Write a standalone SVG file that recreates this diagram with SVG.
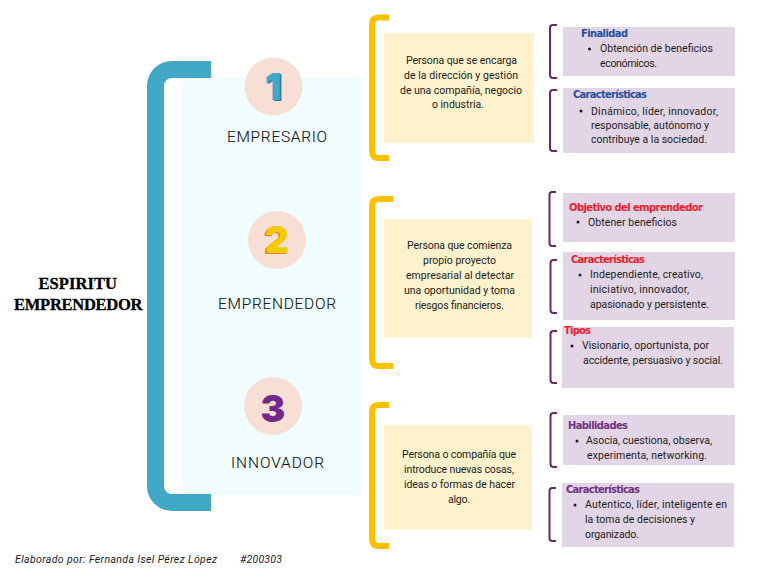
<svg xmlns="http://www.w3.org/2000/svg" width="768" height="576" viewBox="0 0 768 576">
<style>
.b{font-family:Roboto,"Liberation Sans",sans-serif;font-size:10.500px;fill:#1c1c1c;}
.t{font-family:"DejaVu Sans Condensed","DejaVu Sans",sans-serif;font-stretch:condensed;font-size:11px;font-weight:700;}
.l{font-family:Roboto,"Liberation Sans",sans-serif;font-size:15.500px;font-weight:300;fill:#111;stroke:#111;stroke-width:.1;}
.n{font-family:Inter,Roboto,"Liberation Sans",sans-serif;font-size:37px;font-weight:900;text-anchor:middle;}
.h{font-family:"Liberation Serif",serif;font-size:16.500px;font-weight:700;fill:#000;stroke:#000;stroke-width:.3;}
.f{font-family:Roboto,"Liberation Sans",sans-serif;font-size:10.500px;font-style:italic;fill:#1c1c1c;}
.y{fill:#fff2cc;}.p{fill:#e2d5e5;}.c{fill:#f8dfd5;}
.yb{fill:none;stroke:#ffc000;stroke-width:6;}
.pb{fill:none;stroke:#6b2a62;stroke-width:2;}
.d{fill:#1c1c1c;}
</style>
<rect x="181" y="77" width="181" height="418" fill="#f0fcff"/>
<g id="connectors">
<path d="M211 69.500H172A16.500 16.500 0 0 0 155.500 86V486A16.500 16.500 0 0 0 172 502.500H211" fill="none" stroke="#41a9c5" stroke-width="17"/>
<path class="yb" d="M389 17.500H379Q372 17.500 372 24.500V151Q372 158 379 158H389"/>
<path class="yb" d="M393 199H379Q372 199 372 206V359Q372 366 379 366H393"/>
<path class="yb" d="M389 405H379Q372 405 372 412V539Q372 546 379 546H389"/>
<path class="pb" d="M557 25H553Q550 25 550 28V75Q550 78 553 78H557"/>
<path class="pb" d="M557 90H553Q550 90 550 93V148Q550 151 553 151H557"/>
<path class="pb" d="M556 192H552Q549.500 192 549.500 195V243Q549.500 246 552 246H556"/>
<path class="pb" d="M557 260H553.500Q550.500 260 550.500 263V310Q550.500 313 553.500 313H557"/>
<path class="pb" d="M557 331H553.500Q550.500 331 550.500 334V380Q550.500 383 553.500 383H557"/>
<path class="pb" d="M557 413H553.500Q550.500 413 550.500 416V464Q550.500 467 553.500 467H557"/>
<path class="pb" d="M556 488H552.500Q549.500 488 549.500 491V538Q549.500 541 552.500 541H556"/>
</g>
<g id="root"><text class="h" x="38.500" y="289" textLength="78.500">ESPIRITU</text><text class="h" x="14" y="310" textLength="128.500">EMPRENDEDOR</text></g>
<g id="empresario">
<circle class="c" cx="273.500" cy="86.500" r="29"/>
<text class="n" x="274.500" y="100.500" fill="#2b7f9d">1</text><text class="n" x="273" y="99.500" fill="#41a9c5">1</text>
<text class="l" x="227" y="142" textLength="100">EMPRESARIO</text>
</g>
<g id="emprendedor">
<circle class="c" cx="277" cy="240" r="29"/>
<text class="n" x="275.500" y="254" fill="#ee7a2a">2</text><text class="n" x="277" y="253" fill="#f0cc00">2</text>
<text class="l" x="218" y="309" textLength="118">EMPRENDEDOR</text>
</g>
<g id="innovador">
<circle class="c" cx="273" cy="406" r="29"/>
<text class="n" x="273" y="422" fill="#74288a">3</text>
<text class="l" x="231" y="468" textLength="93">INNOVADOR</text>
</g>
<g id="def-empresario"><rect class="y" x="384" y="33" width="150" height="110"/>
<text class="b" x="406" y="64" textLength="111">Persona que se encarga</text>
<text class="b" x="404" y="79" textLength="114">de la dirección y gestión</text>
<text class="b" x="400" y="94" textLength="122">de una compañía, negocio</text>
<text class="b" x="432" y="108" textLength="52">o industria.</text></g>
<g id="def-emprendedor"><rect class="y" x="384" y="219" width="148" height="119"/>
<text class="b" x="407" y="249" textLength="105">Persona que comienza</text>
<text class="b" x="423" y="264" textLength="73">propio proyecto</text>
<text class="b" x="406" y="279" textLength="108">empresarial al detectar</text>
<text class="b" x="404" y="294" textLength="111">una oportunidad y toma</text>
<text class="b" x="415" y="309" textLength="89">riesgos financieros.</text></g>
<g id="def-innovador"><rect class="y" x="384" y="425" width="148" height="105"/>
<text class="b" x="402" y="458" textLength="114">Persona o compañía que</text>
<text class="b" x="404" y="473" textLength="110">introduce nuevas cosas,</text>
<text class="b" x="404" y="488" textLength="111">ideas o formas de hacer</text>
<text class="b" x="448" y="503" textLength="22">algo.</text></g>
<g id="finalidad"><rect class="p" x="563" y="27" width="172" height="49"/>
<text class="t" x="581" y="37" textLength="47" fill="#1f4ea1">Finalidad</text><circle class="d" cx="589.500" cy="49" r="1.500"/>
<text class="b" x="600" y="52" textLength="113">Obtención de beneficios</text>
<text class="b" x="600" y="67" textLength="57">económicos.</text></g>
<g id="caracteristicas-1"><rect class="p" x="563" y="88" width="172" height="65"/>
<text class="t" x="573" y="98" textLength="74" fill="#1f4ea1">Características</text><circle class="d" cx="581" cy="111" r="1.500"/>
<text class="b" x="591" y="115" textLength="127">Dinámico, líder, innovador,</text>
<text class="b" x="591" y="129" textLength="118">responsable, autónomo y</text>
<text class="b" x="591" y="143" textLength="116">contribuye a la sociedad.</text></g>
<g id="objetivo"><rect class="p" x="563" y="193" width="172" height="49"/>
<text class="t" x="569" y="211" textLength="134" fill="#ee1c2e">Objetivo del emprendedor</text><circle class="d" cx="578" cy="222" r="1.500"/>
<text class="b" x="588" y="226" textLength="89">Obtener beneficios</text></g>
<g id="caracteristicas-2"><rect class="p" x="563" y="252" width="172" height="68"/>
<text class="t" x="571" y="263" textLength="74" fill="#ee1c2e">Características</text><circle class="d" cx="580" cy="275" r="1.500"/>
<text class="b" x="590" y="278" textLength="113">Independiente, creativo,</text>
<text class="b" x="590" y="293" textLength="99">iniciativo, innovador,</text>
<text class="b" x="590" y="308" textLength="119">apasionado y persistente.</text></g>
<g id="tipos"><rect class="p" x="562" y="327" width="172" height="61"/>
<text class="t" x="564" y="334" textLength="27" fill="#ee1c2e">Tipos</text><circle class="d" cx="572" cy="346" r="1.500"/>
<text class="b" x="582" y="349" textLength="127">Visionario, oportunista, por</text>
<text class="b" x="583" y="364" textLength="140">accidente, persuasivo y social.</text></g>
<g id="habilidades"><rect class="p" x="563" y="415" width="172" height="50"/>
<text class="t" x="568" y="429" textLength="60" fill="#6f2f80">Habilidades</text><circle class="d" cx="577" cy="441" r="1.500"/>
<text class="b" x="586" y="444" textLength="126">Asocia, cuestiona, observa,</text>
<text class="b" x="587" y="459" textLength="120">experimenta, networking.</text></g>
<g id="caracteristicas-3"><rect class="p" x="562" y="483" width="172" height="64"/>
<text class="t" x="566" y="493" textLength="74" fill="#6f2f80">Características</text><circle class="d" cx="575" cy="505" r="1.500"/>
<text class="b" x="585" y="508" textLength="142">Autentico, líder, inteligente en</text>
<text class="b" x="585" y="523" textLength="110">la toma de decisiones y</text>
<text class="b" x="585" y="538" textLength="54">organizado.</text></g>
<g id="footer"><text class="f" x="15" y="563" textLength="202">Elaborado por: Fernanda Isel Pérez López</text>
<text class="f" x="240" y="563" textLength="42">#200303</text></g>
</svg>
